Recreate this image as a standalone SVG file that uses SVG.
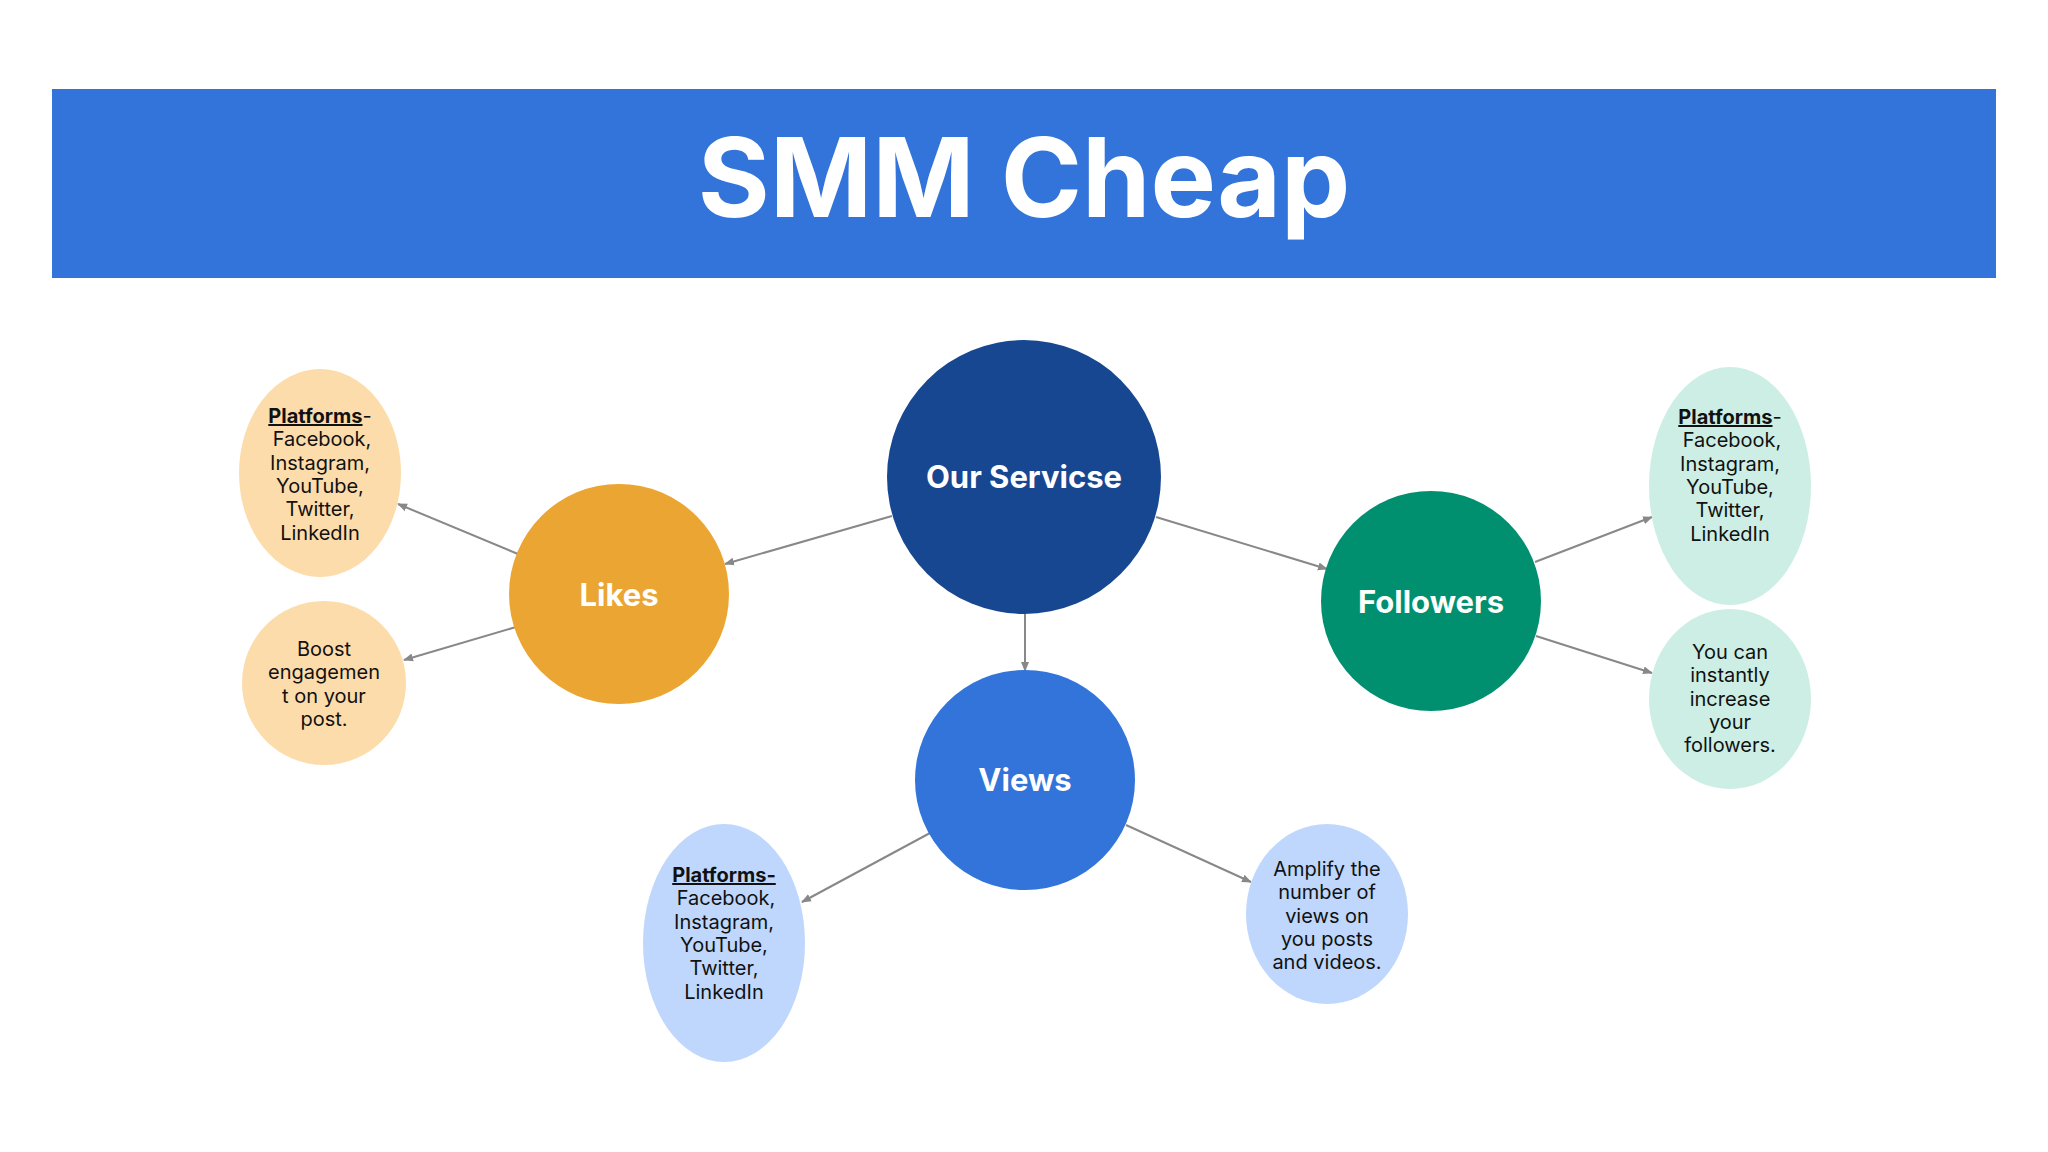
<svg xmlns="http://www.w3.org/2000/svg" width="2048" height="1152" viewBox="0 0 2048 1152">
<style>
.t{font-family:Inter,"Noto Sans","Liberation Sans",sans-serif;font-size:20px;fill:#111;text-anchor:middle}
.n{font-family:Inter,"Noto Sans","Liberation Sans",sans-serif;font-size:31px;font-weight:bold;fill:#fff;text-anchor:middle}
.u{font-weight:bold;text-decoration:underline}
.c{stroke:#888;stroke-width:2;fill:none;marker-end:url(#a)}
</style>
<defs><marker id="a" viewBox="0 0 10 10" refX="9" refY="5" markerWidth="5" markerHeight="5" orient="auto"><path d="M0,1L10,5L0,9z" fill="#888"/></marker></defs>
<rect width="2048" height="1152" fill="#fff"/>
<g id="header"><rect x="52" y="89" width="1944" height="189" fill="#3274d9"/>
<text x="1024" y="217" font-family="Inter,'Noto Sans','Liberation Sans',sans-serif" font-size="110" font-weight="bold" fill="#fff" text-anchor="middle">SMM Cheap</text></g>
<g id="connectors">
<line class="c" x1="892" y1="516" x2="725" y2="564"/>
<line class="c" x1="1025" y1="614" x2="1025" y2="671"/>
<line class="c" x1="1156" y1="517" x2="1327" y2="569"/>
<line class="c" x1="518" y1="554" x2="398" y2="504"/>
<line class="c" x1="516" y1="627" x2="404" y2="660"/>
<line class="c" x1="1535" y1="562" x2="1652" y2="517"/>
<line class="c" x1="1536" y1="636" x2="1652" y2="673"/>
<line class="c" x1="930" y1="833" x2="802" y2="902"/>
<line class="c" x1="1126" y1="825" x2="1251" y2="882"/>
</g>
<g id="services"><circle cx="1024" cy="477" r="137" fill="#174791"/><text class="n" x="1024" y="488">Our Servicse</text></g>
<g id="likes"><circle cx="619" cy="594" r="110" fill="#eba533"/><text class="n" x="619" y="606">Likes</text></g>
<g id="followers"><circle cx="1431" cy="601" r="110" fill="#009070"/><text class="n" x="1431" y="613">Followers</text></g>
<g id="views"><circle cx="1025" cy="780" r="110" fill="#3274d9"/><text class="n" x="1025" y="791">Views</text></g>
<g id="likes-platforms"><ellipse cx="320" cy="473" rx="81" ry="104" fill="#fddcab"/>
<text class="t" x="320" y="423"><tspan class="u">Platforms</tspan>-<tspan x="322" dy="23.3">Facebook,</tspan><tspan x="320" dy="23.3">Instagram,</tspan><tspan x="320" dy="23.3">YouTube,</tspan><tspan x="320" dy="23.3">Twitter,</tspan><tspan x="320" dy="23.3">LinkedIn</tspan></text></g>
<g id="likes-boost"><ellipse cx="324" cy="683" rx="82" ry="82" fill="#fddcab"/>
<text class="t" x="324" y="656">Boost<tspan x="324" dy="23.3">engagemen</tspan><tspan x="324" dy="23.3">t on your</tspan><tspan x="324" dy="23.3">post.</tspan></text></g>
<g id="followers-platforms"><ellipse cx="1730" cy="486" rx="81" ry="119" fill="#cdeee4"/>
<text class="t" x="1730" y="424"><tspan class="u">Platforms</tspan>-<tspan x="1732" dy="23.3">Facebook,</tspan><tspan x="1730" dy="23.3">Instagram,</tspan><tspan x="1730" dy="23.3">YouTube,</tspan><tspan x="1730" dy="23.3">Twitter,</tspan><tspan x="1730" dy="23.3">LinkedIn</tspan></text></g>
<g id="followers-increase"><ellipse cx="1730" cy="699" rx="81" ry="90" fill="#cdeee4"/>
<text class="t" x="1730" y="659">You can<tspan x="1730" dy="23.3">instantly</tspan><tspan x="1730" dy="23.3">increase</tspan><tspan x="1730" dy="23.3">your</tspan><tspan x="1730" dy="23.3">followers.</tspan></text></g>
<g id="views-platforms"><ellipse cx="724" cy="943" rx="81" ry="119" fill="#bfd7fc"/>
<text class="t" x="724" y="882"><tspan class="u">Platforms-</tspan><tspan x="726" dy="23.3">Facebook,</tspan><tspan x="724" dy="23.3">Instagram,</tspan><tspan x="724" dy="23.3">YouTube,</tspan><tspan x="724" dy="23.3">Twitter,</tspan><tspan x="724" dy="23.3">LinkedIn</tspan></text></g>
<g id="views-amplify"><ellipse cx="1327" cy="914" rx="81" ry="90" fill="#bfd7fc"/>
<text class="t" x="1327" y="876">Amplify the<tspan x="1327" dy="23.3">number of</tspan><tspan x="1327" dy="23.3">views on</tspan><tspan x="1327" dy="23.3">you posts</tspan><tspan x="1327" dy="23.3">and videos.</tspan></text></g>
</svg>
